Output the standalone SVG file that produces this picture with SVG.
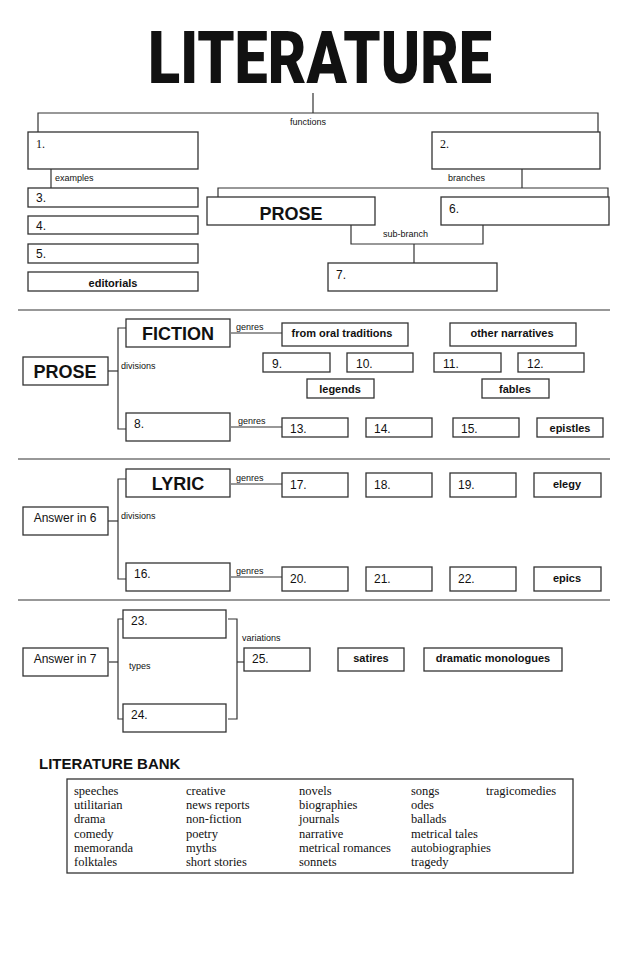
<svg xmlns="http://www.w3.org/2000/svg" width="638" height="976" viewBox="0 0 638 976">
<style>
rect{fill:#fff;stroke:#333;stroke-width:1.3}
.c line,.c polyline{stroke:#333;stroke-width:1.2;fill:none}
text{font-family:"Liberation Sans",Arial,sans-serif;fill:#111}
.s{font-size:9px}
.n{font-size:12px}
.b{font-size:11px;font-weight:bold;text-anchor:middle}
.h{font-size:18px;font-weight:900;text-anchor:middle}
.bank{font-family:"Liberation Serif","Times New Roman",serif;font-size:12.5px}
</style>
<rect x="0" y="0" width="638" height="976" style="fill:#fff;stroke:none"/>
<text x="320" y="83" style="font-family:Roboto,'Liberation Sans',sans-serif;font-size:72px;font-weight:900;text-anchor:middle" textLength="344" lengthAdjust="spacingAndGlyphs">LITERATURE</text>

<g class="c" id="connectors">
<line x1="313" y1="93" x2="313" y2="113"/>
<polyline points="38,132 38,113 598,113 598,132"/>
<line x1="51" y1="169" x2="51" y2="188"/>
<line x1="522" y1="169" x2="522" y2="188"/>
<polyline points="218,197 218,188 608,188 608,197"/>
<polyline points="351,225 351,244 483,244 483,225"/>
<line x1="414" y1="244" x2="414" y2="263"/>
<line x1="18" y1="310" x2="610" y2="310"/>
<line x1="108" y1="371" x2="118" y2="371"/>
<polyline points="127,328 118,328 118,429 127,429"/>
<line x1="231" y1="333" x2="284" y2="333"/>
<line x1="231" y1="427" x2="284" y2="427"/>
<line x1="18" y1="459" x2="610" y2="459"/>
<line x1="108" y1="521" x2="118" y2="521"/>
<polyline points="127,479 118,479 118,579 127,579"/>
<line x1="231" y1="484" x2="284" y2="484"/>
<line x1="231" y1="577" x2="284" y2="577"/>
<line x1="18" y1="600" x2="610" y2="600"/>
<line x1="109" y1="662" x2="118" y2="662"/>
<polyline points="123,619 118,619 118,719 123,719"/>
<polyline points="228,619 237,619 237,719 228,719"/>
<line x1="237" y1="662" x2="246" y2="662"/>
</g>
<g id="labels">
<text class="s" x="308" y="125" text-anchor="middle">functions</text>
<text class="s" x="55" y="181">examples</text>
<text class="s" x="448" y="181">branches</text>
<text class="s" x="383" y="237">sub-branch</text>
<text class="s" x="121" y="369">divisions</text>
<text class="s" x="236" y="330">genres</text>
<text class="s" x="238" y="424">genres</text>
<text class="s" x="121" y="519">divisions</text>
<text class="s" x="236" y="481">genres</text>
<text class="s" x="236" y="574">genres</text>
<text class="s" x="129" y="669">types</text>
<text class="s" x="242" y="641">variations</text>
</g>

<g id="n1"><rect x="28" y="132" width="170" height="37"/><text x="36" y="148" style="font-family:'Liberation Serif',serif;font-size:12px">1.</text></g>
<g id="n2"><rect x="432" y="132" width="168" height="37"/><text x="440" y="148" style="font-family:'Liberation Serif',serif;font-size:12px">2.</text></g>
<g id="n3"><rect x="28" y="188" width="170" height="19"/><text class="n" x="36" y="202">3.</text></g>
<g id="n4"><rect x="28" y="216" width="170" height="18"/><text class="n" x="36" y="230">4.</text></g>
<g id="n5"><rect x="28" y="244" width="170" height="19"/><text class="n" x="36" y="258">5.</text></g>
<g id="editorials"><rect x="28" y="272" width="170" height="19"/><text class="b" x="113" y="287">editorials</text></g>
<g id="prose1"><rect x="207" y="197" width="168" height="28"/><text class="h" x="291" y="220">PROSE</text></g>
<g id="n6"><rect x="441" y="197" width="168" height="28"/><text class="n" x="449" y="213">6.</text></g>
<g id="n7"><rect x="328" y="263" width="169" height="28"/><text class="n" x="336" y="279">7.</text></g>

<g id="fiction"><rect x="126" y="319" width="104" height="28"/><text class="h" x="178" y="340">FICTION</text></g>
<g id="prose2"><rect x="23" y="357" width="85" height="28"/><text class="h" x="65" y="378">PROSE</text></g>
<g id="n8"><rect x="126" y="413" width="104" height="28"/><text class="n" x="134" y="428">8.</text></g>
<g id="oral"><rect x="282" y="323" width="126" height="23"/><text class="b" x="342" y="337">from oral traditions</text></g>
<g id="other"><rect x="450" y="323" width="126" height="23"/><text class="b" x="512" y="337">other narratives</text></g>
<g id="n9"><rect x="263" y="353" width="67" height="19"/><text class="n" x="272" y="368">9.</text></g>
<g id="n10"><rect x="347" y="353" width="66" height="19"/><text class="n" x="356" y="368">10.</text></g>
<g id="n11"><rect x="434" y="353" width="67" height="19"/><text class="n" x="443" y="368">11.</text></g>
<g id="n12"><rect x="518" y="353" width="66" height="19"/><text class="n" x="527" y="368">12.</text></g>
<g id="legends"><rect x="307" y="379" width="67" height="19"/><text class="b" x="340" y="393">legends</text></g>
<g id="fables"><rect x="482" y="379" width="67" height="19"/><text class="b" x="515" y="393">fables</text></g>
<g id="n13"><rect x="282" y="418" width="66" height="19"/><text class="n" x="290" y="433">13.</text></g>
<g id="n14"><rect x="366" y="418" width="66" height="19"/><text class="n" x="374" y="433">14.</text></g>
<g id="n15"><rect x="453" y="418" width="66" height="19"/><text class="n" x="461" y="433">15.</text></g>
<g id="epistles"><rect x="537" y="418" width="66" height="19"/><text class="b" x="570" y="432">epistles</text></g>

<g id="lyric"><rect x="126" y="469" width="104" height="28"/><text class="h" x="178" y="490">LYRIC</text></g>
<g id="ans6"><rect x="23" y="507" width="85" height="28"/><text class="n" x="65" y="522" text-anchor="middle">Answer in 6</text></g>
<g id="n16"><rect x="126" y="563" width="104" height="28"/><text class="n" x="134" y="578">16.</text></g>
<g id="n17"><rect x="282" y="473" width="66" height="24"/><text class="n" x="290" y="489">17.</text></g>
<g id="n18"><rect x="366" y="473" width="66" height="24"/><text class="n" x="374" y="489">18.</text></g>
<g id="n19"><rect x="450" y="473" width="66" height="24"/><text class="n" x="458" y="489">19.</text></g>
<g id="elegy"><rect x="534" y="473" width="67" height="24"/><text class="b" x="567" y="488">elegy</text></g>
<g id="n20"><rect x="282" y="567" width="66" height="24"/><text class="n" x="290" y="583">20.</text></g>
<g id="n21"><rect x="366" y="567" width="66" height="24"/><text class="n" x="374" y="583">21.</text></g>
<g id="n22"><rect x="450" y="567" width="66" height="24"/><text class="n" x="458" y="583">22.</text></g>
<g id="epics"><rect x="534" y="567" width="67" height="24"/><text class="b" x="567" y="582">epics</text></g>

<g id="n23"><rect x="123" y="610" width="103" height="28"/><text class="n" x="131" y="625">23.</text></g>
<g id="n24"><rect x="123" y="704" width="103" height="28"/><text class="n" x="131" y="719">24.</text></g>
<g id="ans7"><rect x="23" y="648" width="85" height="28"/><text class="n" x="65" y="663" text-anchor="middle">Answer in 7</text></g>
<g id="n25"><rect x="244" y="648" width="66" height="23"/><text class="n" x="252" y="663">25.</text></g>
<g id="satires"><rect x="338" y="648" width="66" height="23"/><text class="b" x="371" y="662">satires</text></g>
<g id="dram"><rect x="424" y="648" width="138" height="23"/><text class="b" x="493" y="662">dramatic monologues</text></g>

<text x="39" y="769" style="font-size:15px;font-weight:bold">LITERATURE BANK</text>
<g id="bank">
<rect x="67" y="779" width="506" height="94"/>
<text class="bank" x="74" y="795">speeches</text><text class="bank" x="186" y="795">creative</text><text class="bank" x="299" y="795">novels</text><text class="bank" x="411" y="795">songs</text><text class="bank" x="486" y="795">tragicomedies</text>
<text class="bank" x="74" y="809">utilitarian</text><text class="bank" x="186" y="809">news reports</text><text class="bank" x="299" y="809">biographies</text><text class="bank" x="411" y="809">odes</text>
<text class="bank" x="74" y="823">drama</text><text class="bank" x="186" y="823">non-fiction</text><text class="bank" x="299" y="823">journals</text><text class="bank" x="411" y="823">ballads</text>
<text class="bank" x="74" y="838">comedy</text><text class="bank" x="186" y="838">poetry</text><text class="bank" x="299" y="838">narrative</text><text class="bank" x="411" y="838">metrical tales</text>
<text class="bank" x="74" y="852">memoranda</text><text class="bank" x="186" y="852">myths</text><text class="bank" x="299" y="852">metrical romances</text><text class="bank" x="411" y="852">autobiographies</text>
<text class="bank" x="74" y="866">folktales</text><text class="bank" x="186" y="866">short stories</text><text class="bank" x="299" y="866">sonnets</text><text class="bank" x="411" y="866">tragedy</text>
</g>
</svg>
